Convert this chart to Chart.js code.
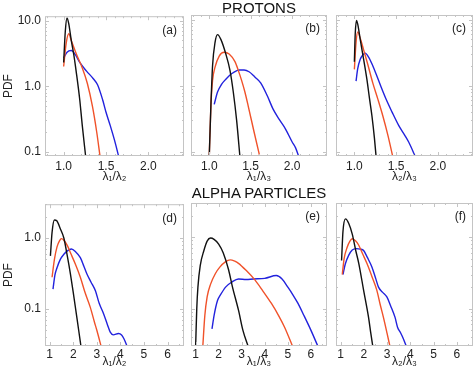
<!DOCTYPE html>
<html>
<head>
<meta charset="utf-8">
<script src="https://cdn.jsdelivr.net/npm/chart.js@4.4.0/dist/chart.umd.min.js"></script>
<style>
  html, body { margin: 0; padding: 0; background: #fff; overflow: hidden; }
  #wrap { position: relative; width: 474px; height: 369px; font-family: "Liberation Sans", Arial, sans-serif; }
  #wrap canvas { position: absolute; }
  .row-title { position: absolute; left: 159px; width: 200px; text-align: center; font-size: 15px; line-height: 15px; color: #111; z-index: 5; }
</style>
</head>
<body>
<div id="wrap">
  <div class="row-title" style="top:0px">PROTONS</div>
  <div class="row-title" style="top:185px">ALPHA PARTICLES</div>
</div>
<script>
// axis ticks
const topXTicks = [1.0, 1.5, 2.0];
const topXLabels = ['1.0', '1.5', '2.0'];
const botXTicks = [1, 2, 3, 4, 5, 6];
const botXLabels = ['1', '2', '3', '4', '5', '6'];
const topYTicks = [0.1, 1, 10];
const topYLabels = ['0.1', '1.0', '10.0'];
const botYTicks = [0.1, 1];
const botYLabels = ['0.1', '1.0'];

const panelNames = ['(a)', '(b)', '(c)', '(d)', '(e)', '(f)'];
const xTitles = ['λ₁/λ₂', 'λ₁/λ₃', 'λ₂/λ₃', 'λ₁/λ₂', 'λ₁/λ₃', 'λ₂/λ₃'];
const lineColors = ['#111111', '#f0522a', '#2222dd'];

// (a) protons, λ1/λ2
const aBlack = [[1.0,2.3],[1.02,7],[1.04,11],[1.06,9],[1.09,5],[1.12,3],[1.15,1.6],[1.19,0.62],[1.22,0.25],[1.26,0.084]];
const aOrange = [[1.0,2.0],[1.03,4.5],[1.06,6.3],[1.09,5.0],[1.15,3.1],[1.22,1.9],[1.28,1.1],[1.34,0.49],[1.39,0.2],[1.43,0.084]];
const aBlue = [[1.0,2.7],[1.04,3.3],[1.09,3.5],[1.14,3.0],[1.19,2.3],[1.27,1.7],[1.35,1.3],[1.4,1.05],[1.46,0.62],[1.5,0.4],[1.55,0.25],[1.6,0.15],[1.65,0.084]];
// (b) protons, λ1/λ3
const bBlack = [[1.0,0.084],[1.02,0.5],[1.04,2],[1.07,4.5],[1.1,5.9],[1.14,5.0],[1.2,3],[1.25,1.7],[1.29,0.8],[1.33,0.3],[1.37,0.084]];
const bOrange = [[1.0,0.084],[1.02,0.5],[1.04,1.2],[1.07,1.9],[1.12,2.8],[1.18,3.2],[1.24,3.0],[1.31,2.3],[1.35,1.7],[1.39,1.2],[1.43,0.8],[1.47,0.49],[1.54,0.2],[1.61,0.084]];
const bBlue = [[1.06,0.52],[1.1,0.8],[1.15,1.05],[1.2,1.25],[1.25,1.45],[1.3,1.6],[1.36,1.72],[1.42,1.72],[1.48,1.62],[1.55,1.35],[1.62,1.1],[1.7,0.7],[1.77,0.44],[1.85,0.3],[1.92,0.22],[2.0,0.14],[2.04,0.115],[2.08,0.084]];
// (c) protons, λ2/λ3
const cBlack = [[1.0,2.3],[1.01,6],[1.025,9.7],[1.04,8.5],[1.07,5],[1.1,3],[1.15,1.24],[1.18,0.65],[1.21,0.35],[1.24,0.16],[1.26,0.084]];
const cOrange = [[1.0,1.76],[1.02,4.5],[1.04,6.5],[1.07,5.2],[1.11,3.5],[1.16,2.1],[1.22,1.1],[1.28,0.63],[1.34,0.35],[1.4,0.18],[1.46,0.084]];
const cBlue = [[1.02,1.17],[1.04,1.8],[1.07,2.5],[1.1,2.9],[1.13,3.1],[1.17,2.7],[1.22,2.0],[1.26,1.5],[1.32,0.95],[1.38,0.62],[1.45,0.4],[1.53,0.25],[1.6,0.18],[1.65,0.14],[1.73,0.084]];
// (d) alpha particles, λ1/λ2
const dBlack = [[1.03,0.56],[1.1,1.2],[1.2,1.8],[1.3,1.75],[1.45,1.35],[1.6,1.0],[1.75,0.55],[1.88,0.31],[2.0,0.17],[2.13,0.085],[2.23,0.05],[2.33,0.029]];
const dOrange = [[1.1,0.28],[1.2,0.5],[1.31,0.75],[1.42,0.92],[1.5,0.98],[1.6,0.93],[1.75,0.78],[1.88,0.62],[2.1,0.42],[2.3,0.28],[2.5,0.17],[2.72,0.106],[2.9,0.065],[3.0,0.05],[3.19,0.029]];
const dBlue = [[1.14,0.19],[1.22,0.3],[1.31,0.38],[1.45,0.5],[1.6,0.59],[1.75,0.66],[1.92,0.7],[2.1,0.64],[2.3,0.53],[2.45,0.4],[2.58,0.31],[2.75,0.24],[2.94,0.18],[3.1,0.12],[3.29,0.085],[3.45,0.06],[3.57,0.047],[3.7,0.043],[3.92,0.045],[4.05,0.043],[4.15,0.038],[4.3,0.029]];
// (e) alpha particles, λ1/λ3
const eBlack = [[1.0,0.029],[1.05,0.1],[1.1,0.2],[1.2,0.4],[1.36,0.65],[1.5,0.88],[1.65,0.97],[1.8,0.93],[2.0,0.8],[2.2,0.6],[2.43,0.35],[2.6,0.2],[2.86,0.095],[3.05,0.05],[3.29,0.029]];
const eOrange = [[1.31,0.029],[1.4,0.08],[1.5,0.146],[1.65,0.22],[1.86,0.31],[2.05,0.38],[2.29,0.45],[2.5,0.48],[2.7,0.46],[2.86,0.43],[3.2,0.34],[3.58,0.25],[3.9,0.18],[4.29,0.118],[4.6,0.08],[4.86,0.055],[5.22,0.029]];
const eBlue = [[1.71,0.052],[1.8,0.08],[1.95,0.13],[2.07,0.154],[2.3,0.2],[2.57,0.235],[2.86,0.26],[3.2,0.255],[3.5,0.26],[4.0,0.265],[4.5,0.29],[4.75,0.26],[5.0,0.2],[5.2,0.16],[5.43,0.12],[5.7,0.08],[6.0,0.05],[6.32,0.029]];
// (f) alpha particles, λ2/λ3
const fBlack = [[1.04,0.47],[1.1,1.2],[1.21,1.8],[1.35,1.55],[1.5,1.1],[1.65,0.65],[1.78,0.43],[1.99,0.18],[2.2,0.076],[2.3,0.045],[2.39,0.029]];
const fOrange = [[1.07,0.3],[1.15,0.5],[1.28,0.72],[1.4,0.88],[1.5,0.95],[1.65,0.88],[1.78,0.77],[1.95,0.58],[2.13,0.43],[2.35,0.28],[2.56,0.18],[2.7,0.115],[2.84,0.076],[3.0,0.045],[3.13,0.029]];
const fBlue = [[1.1,0.3],[1.2,0.42],[1.35,0.56],[1.5,0.66],[1.68,0.69],[1.85,0.68],[1.99,0.65],[2.15,0.52],[2.35,0.38],[2.5,0.27],[2.63,0.2],[2.8,0.17],[2.99,0.146],[3.15,0.11],[3.34,0.076],[3.45,0.055],[3.58,0.046],[3.7,0.038],[3.84,0.029]];

const panelSeries = [
  [aBlack, aOrange, aBlue], [bBlack, bOrange, bBlue], [cBlack, cOrange, cBlue],
  [dBlack, dOrange, dBlue], [eBlack, eOrange, eBlue], [fBlack, fOrange, fBlue]
];

// layout of plot areas
const colLeft = [45, 191, 336];
const colWidth = [139, 136, 137];
const rowTop = [15, 203];
const rowHeight = [141, 143];
const FONT = '"Liberation Sans", Arial, sans-serif';

const framePlugin = {
  id: 'frame',
  afterDraw(chart, args, opts) {
    const { ctx, chartArea: a } = chart;
    const x = chart.scales.x, y = chart.scales.y;
    ctx.save();
    ctx.strokeStyle = '#c4c4c4';
    ctx.lineWidth = 1;
    ctx.strokeRect(a.left + 0.5, a.top + 0.5, a.width - 1, a.height - 1);
    ctx.beginPath();
    opts.xMinor.forEach(v => {
      const px = Math.round(x.getPixelForValue(v)) + 0.5;
      if (px < a.left || px > a.right) return;
      const len = opts.xMajor.some(m => Math.abs(m - v) < 1e-6) ? 4 : 2;
      ctx.moveTo(px, a.bottom); ctx.lineTo(px, a.bottom - len);
      ctx.moveTo(px, a.top); ctx.lineTo(px, a.top + len);
    });
    opts.yMinor.forEach(v => {
      const py = Math.round(y.getPixelForValue(v)) + 0.5;
      if (py < a.top || py > a.bottom) return;
      const len = opts.yMajor.some(m => Math.abs(m - v) < 1e-9) ? 4 : 2;
      ctx.moveTo(a.left, py); ctx.lineTo(a.left + len, py);
      ctx.moveTo(a.right, py); ctx.lineTo(a.right - len, py);
    });
    ctx.stroke();
    ctx.fillStyle = '#222';
    ctx.font = '12px ' + FONT;
    ctx.textAlign = 'right';
    ctx.textBaseline = 'middle';
    ctx.fillText(opts.label, a.right - 7, a.top + 14);
    ctx.restore();
  }
};

function makePanel(i) {
  const row = Math.floor(i / 3), col = i % 3;
  const top = row === 0;
  const showY = col === 0;
  const yw = showY ? 45 : 6;
  const hx = top ? 28 : 23;
  const padTop = 10, padRight = 2;
  const cv = document.createElement('canvas');
  cv.width = yw + colWidth[col] + padRight;
  cv.height = padTop + rowHeight[row] + hx;
  cv.style.left = (colLeft[col] - yw) + 'px';
  cv.style.top = (rowTop[row] - padTop) + 'px';
  document.getElementById('wrap').appendChild(cv);

  const xMin = top ? 0.78 : 0.8, xMax = top ? 2.42 : 6.7;
  const yMin = top ? 0.086 : 0.03, yMax = top ? 11.7 : 3.0;
  const xt = top ? topXTicks : botXTicks, xl = top ? topXLabels : botXLabels;
  const yt = top ? topYTicks : botYTicks, yl = top ? topYLabels : botYLabels;

  const xMinor = [];
  if (top) { for (let k = 8; k <= 24; k++) xMinor.push(k / 10); }
  else { for (let k = 2; k <= 13; k++) xMinor.push(k / 2); }
  const yMinor = [];
  for (let e = -2; e <= 1; e++) for (let m = 1; m <= 9; m++) yMinor.push(m * Math.pow(10, e));

  new Chart(cv, {
    type: 'line',
    data: {
      datasets: panelSeries[i].map((pts, k) => ({
        data: pts.map(([x, y]) => ({ x, y })),
        borderColor: lineColors[k],
        borderWidth: 1.4,
        pointRadius: 0,
        cubicInterpolationMode: 'monotone',
        fill: false,
        clip: 0
      }))
    },
    options: {
      responsive: false,
      animation: false,
      devicePixelRatio: 1,
      layout: { padding: { top: padTop, right: padRight, left: 0, bottom: 0 } },
      plugins: {
        legend: { display: false },
        tooltip: { enabled: false },
        frame: { label: panelNames[i], xMajor: xt, yMajor: yt, xMinor, yMinor }
      },
      scales: {
        x: {
          type: 'linear', min: xMin, max: xMax,
          grid: { display: false, drawTicks: false }, border: { display: false },
          afterBuildTicks: s => { s.ticks = xt.map(v => ({ value: v })); },
          afterFit: s => { s.height = hx; },
          ticks: {
            autoSkip: false, maxRotation: 0, padding: top ? 3 : 1,
            color: '#222', font: { size: 12, family: FONT },
            callback: (v, idx) => xl[idx]
          },
          title: {
            display: true, text: xTitles[i], color: '#222',
            font: { size: 12, family: FONT }, padding: { top: 0, bottom: 0 }
          }
        },
        y: {
          type: 'logarithmic', min: yMin, max: yMax,
          grid: { display: false, drawTicks: false }, border: { display: false },
          afterBuildTicks: s => { s.ticks = yt.map(v => ({ value: v })); },
          afterFit: s => { s.width = yw; },
          ticks: {
            display: showY, autoSkip: false, padding: 4,
            color: '#222', font: { size: 12, family: FONT },
            callback: (v, idx) => yl[idx]
          },
          title: {
            display: showY, text: 'PDF', color: '#222',
            font: { size: 12, family: FONT }, padding: { top: 1, bottom: 0 }
          }
        }
      }
    },
    plugins: [framePlugin]
  });
}

for (let i = 0; i < 6; i++) makePanel(i);
</script>
</body>
</html>
